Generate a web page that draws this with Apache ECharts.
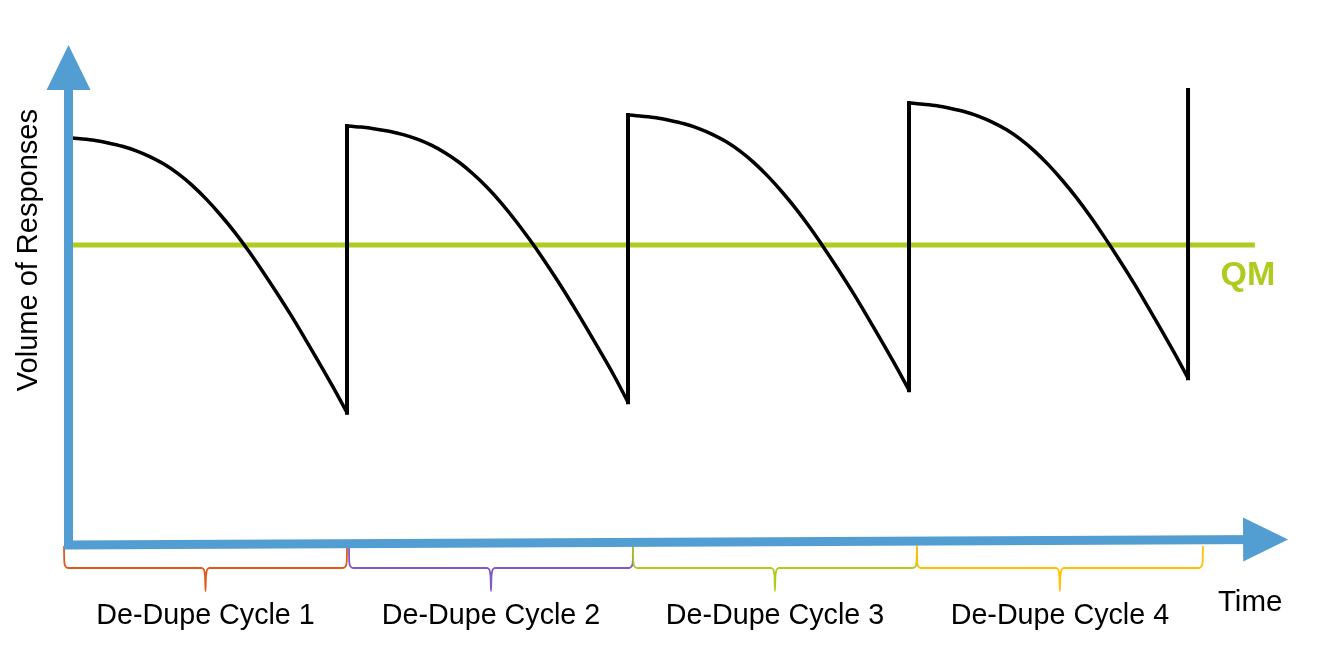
<!DOCTYPE html>
<html>
<head>
<meta charset="utf-8">
<script src="https://cdn.jsdelivr.net/npm/echarts@6/dist/echarts.min.js"></script>
<style>
html,body{margin:0;padding:0;background:#fff;}
#chart{width:1335px;height:651px;}
</style>
</head>
<body>
<div id="chart"></div>
<script>
// ---- data (time units: one cycle = 100; volume units: QM = 100) ----
const cycleNames = ['De-Dupe Cycle 1', 'De-Dupe Cycle 2', 'De-Dupe Cycle 3', 'De-Dupe Cycle 4'];
const qmLevel = 100;
const qmSpan = [0.7, 423.1];
const cycleTime = [0, 5, 10, 15, 20, 25, 30, 35, 40, 45, 50, 55, 60, 65, 70, 75, 80, 85, 90, 95, 100];
const cycle1 = [135.8, 135.4, 134.9, 134.0, 132.9, 131.4, 129.4, 126.9, 123.7, 119.8, 115.2, 110.0, 104.3, 98.0, 91.2, 84.1, 76.7, 68.9, 60.9, 52.7, 44.1];
const cycle2 = [139.7, 139.3, 138.7, 137.9, 136.8, 135.3, 133.3, 130.7, 127.5, 123.6, 119.1, 113.9, 108.1, 101.8, 95.1, 88.0, 80.5, 72.7, 64.7, 56.5, 47.6];
const cycle3 = [143.3, 142.9, 142.4, 141.5, 140.4, 138.9, 136.9, 134.4, 131.2, 127.3, 122.7, 117.5, 111.8, 105.5, 98.7, 91.6, 84.2, 76.4, 68.4, 60.2, 51.6];
const cycle4 = [147.3, 146.9, 146.4, 145.5, 144.4, 142.9, 140.9, 138.4, 135.2, 131.3, 126.7, 121.5, 115.8, 109.5, 102.7, 95.6, 88.2, 80.4, 72.4, 64.2, 55.6];
const cycleStarts = [0, 100, 200, 300];
const cycleEnds = [100, 200, 300, 399.3];
const resets = [[100, 44.1, 139.7], [200, 47.6, 143.3], [300, 51.6, 147.3], [399.3, 55.6, 151.7]];
const braceSpans = [[-0.7, 100], [100.7, 201.8], [201.8, 302.8], [302.8, 404.6]];
const axisLabels = ['Volume of Responses', 'Time', 'QM'];

// ---- styles ----
const BLUE = '#529ed3';
const GREEN = '#b0cb1f';
const braceColors = ['#e2591a', '#8058c8', '#b0cb1f', '#ffc000'];
const FONT = '"Liberation Sans", Arial, sans-serif';

const series = [];

// QM line
series.push({
  type: 'line', data: [[qmSpan[0], qmLevel], [qmSpan[1], qmLevel]],
  symbol: 'none', lineStyle: { color: GREEN, width: 5 }, z: 2, silent: true
});

// cycle curves
[cycle1, cycle2, cycle3, cycle4].forEach((c, i) => {
  const w = (cycleEnds[i] - cycleStarts[i]) / 100;
  series.push({
    type: 'line', data: c.map((v, k) => [cycleStarts[i] + cycleTime[k] * w, v]),
    smooth: 0.3, symbol: 'none',
    lineStyle: { color: '#000', width: 3.5, cap: 'round', join: 'round' }, z: 3, silent: true
  });
});

// vertical resets
resets.forEach(r => {
  series.push({
    type: 'line', data: [[r[0], r[1]], [r[0], r[2]]], symbol: 'none',
    lineStyle: { color: '#000', width: 4, cap: 'square' }, z: 3, silent: true
  });
});

// braces under the time axis
const ux = 1 / 2.81, uy = 1 / 3; // one pixel in data units
braceSpans.forEach((s, i) => {
  const a = s[0], b = s[1], m = (a + b) / 2;
  const top = -0.3, bar = -23 * uy, tip = -46 * uy;
  const pts = [
    [a, top], [a + 0.3 * ux, bar + 6 * uy], [a + 1.2 * ux, bar + 2 * uy], [a + 4 * ux, bar],
    [m - 4 * ux, bar], [m - 1.5 * ux, bar - 2 * uy], [m - 0.5 * ux, bar - 8 * uy], [m, tip],
    [m + 0.5 * ux, bar - 8 * uy], [m + 1.5 * ux, bar - 2 * uy], [m + 4 * ux, bar],
    [b - 4 * ux, bar], [b - 1.2 * ux, bar + 2 * uy], [b - 0.3 * ux, bar + 6 * uy], [b, top]
  ];
  series.push({
    type: 'line', data: pts, symbol: 'none', smooth: 0.2,
    lineStyle: { color: braceColors[i], width: 1.8 }, z: 1, silent: true
  });
});

// axes as arrows
series.push({
  type: 'line', data: [], z: 5, silent: true,
  markLine: {
    silent: true, animation: false,
    symbol: ['none', 'triangle'], symbolSize: [44, 45],
    label: { show: false },
    lineStyle: { color: BLUE, width: 9, type: 'solid', opacity: 1 },
    emphasis: { disabled: true },
    data: [
      [{ coord: [0.9, -1.33] }, { coord: [0.9, 159.2] }],
      [{ coord: [-0.71, 0] }, { coord: [426.9, 1.83] }]
    ]
  }
});

const chart = echarts.init(document.getElementById('chart'), null, { renderer: 'canvas' });
chart.setOption({
  animation: false,
  backgroundColor: '#fff',
  grid: { left: 0, right: 0, top: 0, bottom: 0 },
  xAxis: { type: 'value', min: -66 / 2.81, max: (1335 - 66) / 2.81, show: false },
  yAxis: { type: 'value', min: -106 / 3, max: 545 / 3, show: false },
  series: series
});

// texts placed through the chart's own scales
function txt(coord, text, size, extra) {
  const p = chart.convertToPixel({ gridIndex: 0 }, coord);
  return Object.assign({
    type: 'text', x: p[0], y: p[1], z: 100, silent: true,
    style: {
      text: text, fill: '#000', font: size + 'px ' + FONT,
      textAlign: 'center', textVerticalAlign: 'middle'
    }
  }, extra || {});
}
const graphics = cycleNames.map((n, i) => txt([(braceSpans[i][0] + braceSpans[i][1]) / 2, -23.7], n, 28.7));
graphics.push(txt([421.4, -19.3], axisLabels[1], 29.5));
graphics.push(txt([-13.3, 98.3], axisLabels[0], 29, { rotation: Math.PI / 2 }));
const qm = txt([420.6, 89.7], axisLabels[2], 34);
qm.style.fill = GREEN;
qm.style.font = 'bold 34px ' + FONT;
graphics.push(qm);
chart.setOption({ graphic: graphics });
</script>
</body>
</html>
